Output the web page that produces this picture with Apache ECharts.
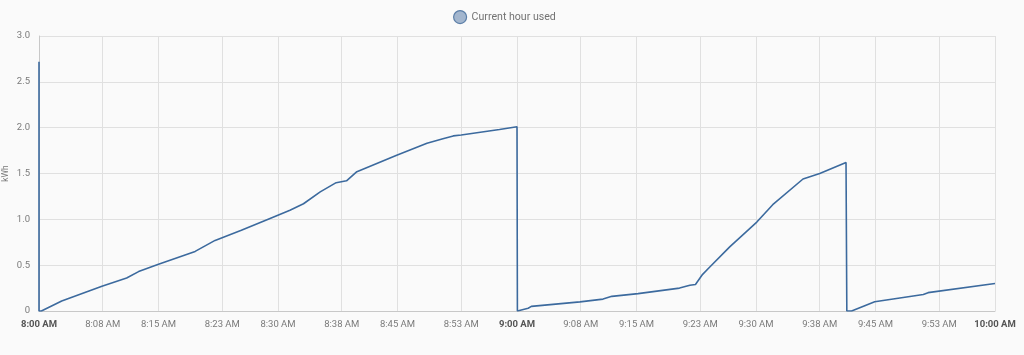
<!DOCTYPE html>
<html>
<head>
<meta charset="utf-8">
<script src="https://cdn.jsdelivr.net/npm/echarts@6/dist/echarts.min.js"></script>
<style>
  html, body { margin: 0; padding: 0; background: #fafafa; }
  #chart { width: 1024px; height: 355px; }
</style>
</head>
<body>
<div id="chart"></div>
<script>
// minutes after 8:00 AM
const tickMinutes = [0, 8, 15, 23, 30, 38, 45, 53, 60, 68, 75, 83, 90, 98, 105, 113, 120];
const yTicks = [0, 0.5, 1.0, 1.5, 2.0, 2.5, 3.0];
const seriesName = 'Current hour used';
// [minute, kWh]
const usedPoints = [
  [0, 2.72], [0, 0], [0.3, 0], [2.85, 0.11], [7.9, 0.27], [11, 0.36], [12.5, 0.43],
  [15, 0.51], [19.6, 0.65], [22.1, 0.77], [25.4, 0.88], [29, 1.01], [31.5, 1.10],
  [33.2, 1.17], [35.3, 1.30], [37.3, 1.40], [38.6, 1.42], [39.9, 1.52], [42.4, 1.61],
  [44.9, 1.70], [48.7, 1.83], [50.7, 1.88], [52, 1.91], [53, 1.92], [57.8, 1.98],
  [60, 2.01], [60.05, 0], [61.4, 0.03], [61.8, 0.05], [67.9, 0.10], [70.8, 0.13],
  [71.9, 0.16], [75.2, 0.19], [80.4, 0.25], [81.7, 0.28], [82.4, 0.29], [83.3, 0.40],
  [84.2, 0.48], [86.7, 0.70], [90.1, 0.97], [92.1, 1.16], [95.9, 1.44], [98, 1.50],
  [101.3, 1.62], [101.4, 0], [102, 0], [104.9, 0.10], [111, 0.18], [111.6, 0.20],
  [120, 0.30]
];

function fmtTime(m) {
  const h = 8 + Math.floor(m / 60);
  const mm = Math.round(m % 60);
  const h12 = h > 12 ? h - 12 : h;
  const s = h12 + ':' + ('0' + mm).slice(-2) + ' AM';
  return m % 60 === 0 ? '{b|' + s + '}' : s;
}

const chart = echarts.init(document.getElementById('chart'));
chart.setOption({
  backgroundColor: '#fafafa',
  animation: false,
  textStyle: { fontFamily: 'Roboto' },
  legend: {
    top: 5,
    left: 448,
    icon: 'circle',
    itemWidth: 13,
    itemHeight: 13,
    itemGap: 6,
    textStyle: { color: '#727272', fontSize: 10.6, fontFamily: 'Roboto' },
    itemStyle: { color: '#a3b6ce', borderColor: '#5c7fa8', borderWidth: 1.2 },
    data: [seriesName]
  },
  grid: { left: 39, right: 29, top: 36, bottom: 44, containLabel: false, outerBoundsMode: 'none' },
  xAxis: {
    type: 'value',
    min: 0,
    max: 120,
    axisLine: { show: true, lineStyle: { color: '#c8c8c8' } },
    axisTick: { show: false, customValues: tickMinutes },
    axisLabel: {
      customValues: tickMinutes,
      formatter: fmtTime,
      color: '#7a7a7a',
      fontSize: 9.5,
      margin: 9,
      rich: { b: { fontWeight: 'bold', color: '#555', fontSize: 9.5 } }
    },
    splitLine: { show: true, lineStyle: { color: '#e0e0e0', width: 1 } }
  },
  yAxis: {
    type: 'value',
    min: 0,
    max: 3,
    interval: 0.5,
    name: 'kWh',
    nameLocation: 'middle',
    nameGap: 29,
    nameMoveOverlap: false,
    nameTextStyle: { color: '#7a7a7a', fontSize: 8.5 },
    axisLine: { show: true, lineStyle: { color: '#c8c8c8' } },
    axisTick: { show: false },
    axisLabel: {
      color: '#7a7a7a',
      fontSize: 9.5,
      margin: 9,
      formatter: v => (v === 0 ? '0' : v.toFixed(1))
    },
    splitLine: { show: true, lineStyle: { color: '#e0e0e0', width: 1 } }
  },
  series: [{
    name: seriesName,
    type: 'line',
    data: usedPoints,
    showSymbol: false,
    symbol: 'circle',
    itemStyle: { color: '#a3b6ce', borderColor: '#5c7fa8' },
    lineStyle: { color: '#3c6a9e', width: 1.6 }
  }]
});
</script>
</body>
</html>
